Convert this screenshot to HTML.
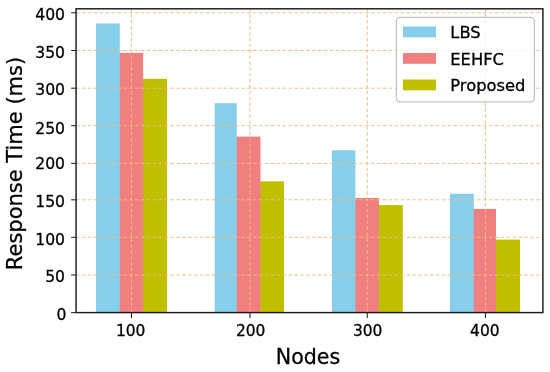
<!DOCTYPE html>
<html><head><meta charset="utf-8"><title>Response Time vs Nodes</title>
<style>
html,body{margin:0;padding:0;background:#fff;}
body{width:550px;height:372px;overflow:hidden;}
svg{display:block;}
text{font-family:"DejaVu Sans","Liberation Sans",sans-serif;fill:#000;stroke:#000;stroke-width:0.3px;}
.tk{font-size:16.4px;}
.lb{font-size:21.6px;}
</style></head><body>
<svg width="550" height="372" viewBox="0 0 550 372">
<rect x="0" y="0" width="550" height="372" fill="#ffffff"/>

<rect x="118.80" y="53.40" width="2" height="259.10" fill="#87ceeb"/>
<rect x="142.20" y="79.30" width="2" height="233.20" fill="#f08080"/>
<rect x="235.80" y="137.10" width="2" height="175.40" fill="#87ceeb"/>
<rect x="259.50" y="181.80" width="2" height="130.70" fill="#f08080"/>
<rect x="354.40" y="198.50" width="2" height="114.00" fill="#87ceeb"/>
<rect x="377.90" y="205.60" width="2" height="106.90" fill="#f08080"/>
<rect x="472.80" y="209.40" width="2" height="103.10" fill="#87ceeb"/>
<rect x="495.00" y="240.10" width="2" height="72.40" fill="#f08080"/>
<rect x="96.00" y="23.40" width="23.80" height="289.10" fill="#87ceeb"/>
<rect x="119.80" y="52.90" width="23.40" height="259.60" fill="#f08080"/>
<rect x="143.20" y="78.80" width="23.90" height="233.70" fill="#bfbf00"/>
<rect x="214.70" y="103.20" width="22.10" height="209.30" fill="#87ceeb"/>
<rect x="236.80" y="136.60" width="23.70" height="175.90" fill="#f08080"/>
<rect x="260.50" y="181.30" width="23.50" height="131.20" fill="#bfbf00"/>
<rect x="332.00" y="150.30" width="23.40" height="162.20" fill="#87ceeb"/>
<rect x="355.40" y="198.00" width="23.50" height="114.50" fill="#f08080"/>
<rect x="378.90" y="205.10" width="23.90" height="107.40" fill="#bfbf00"/>
<rect x="450.00" y="193.70" width="23.80" height="118.80" fill="#87ceeb"/>
<rect x="473.80" y="208.90" width="22.20" height="103.60" fill="#f08080"/>
<rect x="496.00" y="239.60" width="24.00" height="72.90" fill="#bfbf00"/>
<g stroke="rgb(240,188,128)" stroke-opacity="0.95" stroke-width="1.0" stroke-dasharray="3.5 2.4" fill="none">
<line x1="131.45" y1="312.60" x2="131.45" y2="8.80"/>
<line x1="250.00" y1="312.60" x2="250.00" y2="8.80"/>
<line x1="367.30" y1="312.60" x2="367.30" y2="8.80"/>
<line x1="485.45" y1="312.60" x2="485.45" y2="8.80"/>
<line x1="76.05" y1="275.00" x2="542.90" y2="275.00"/>
<line x1="76.05" y1="237.30" x2="542.90" y2="237.30"/>
<line x1="76.05" y1="199.80" x2="542.90" y2="199.80"/>
<line x1="76.05" y1="163.40" x2="542.90" y2="163.40"/>
<line x1="76.05" y1="125.70" x2="542.90" y2="125.70"/>
<line x1="76.05" y1="88.20" x2="542.90" y2="88.20"/>
<line x1="76.05" y1="50.50" x2="542.90" y2="50.50"/>
<line x1="76.05" y1="12.80" x2="542.90" y2="12.80"/>
</g>
<rect x="76.05" y="8.80" width="466.85" height="303.80" fill="none" stroke="#1c1c1c" stroke-width="1.45"/>
<g stroke="#222" stroke-width="1.05">
<line x1="131.45" y1="312.60" x2="131.45" y2="318.10"/>
<line x1="250.00" y1="312.60" x2="250.00" y2="318.10"/>
<line x1="367.30" y1="312.60" x2="367.30" y2="318.10"/>
<line x1="485.45" y1="312.60" x2="485.45" y2="318.10"/>
<line x1="76.05" y1="312.60" x2="71.15" y2="312.60"/>
<line x1="76.05" y1="275.00" x2="71.15" y2="275.00"/>
<line x1="76.05" y1="237.30" x2="71.15" y2="237.30"/>
<line x1="76.05" y1="199.80" x2="71.15" y2="199.80"/>
<line x1="76.05" y1="163.40" x2="71.15" y2="163.40"/>
<line x1="76.05" y1="125.70" x2="71.15" y2="125.70"/>
<line x1="76.05" y1="88.20" x2="71.15" y2="88.20"/>
<line x1="76.05" y1="50.50" x2="71.15" y2="50.50"/>
<line x1="76.05" y1="12.80" x2="71.15" y2="12.80"/>
</g>
<text class="tk" transform="translate(130.65,336.00) scale(0.945,0.950)" text-anchor="middle">100</text>
<text class="tk" transform="translate(250.70,336.00) scale(0.945,0.950)" text-anchor="middle">200</text>
<text class="tk" transform="translate(367.70,336.00) scale(0.945,0.950)" text-anchor="middle">300</text>
<text class="tk" transform="translate(484.85,336.00) scale(0.945,0.950)" text-anchor="middle">400</text>
<text class="tk" transform="translate(66.40,319.80) scale(0.952,1.000)" text-anchor="end">0</text>
<text class="tk" transform="translate(65.00,282.40) scale(0.952,1.000)" text-anchor="end">50</text>
<text class="tk" transform="translate(65.00,244.60) scale(0.952,1.000)" text-anchor="end">100</text>
<text class="tk" transform="translate(65.00,207.10) scale(0.952,1.000)" text-anchor="end">150</text>
<text class="tk" transform="translate(65.00,169.40) scale(0.952,1.000)" text-anchor="end">200</text>
<text class="tk" transform="translate(65.00,133.90) scale(0.952,1.000)" text-anchor="end">250</text>
<text class="tk" transform="translate(65.00,95.40) scale(0.952,1.000)" text-anchor="end">300</text>
<text class="tk" transform="translate(65.00,57.80) scale(0.952,1.000)" text-anchor="end">350</text>
<text class="tk" transform="translate(65.00,20.40) scale(0.952,1.000)" text-anchor="end">400</text>
<text class="lb" transform="translate(308.00,363.60) scale(0.953,1.010)" text-anchor="middle">Nodes</text>
<text class="lb" transform="translate(22.00,163.50) rotate(-90) scale(0.972,0.990)" text-anchor="middle">Response Time (ms)</text>
<rect x="396.4" y="17.4" width="138" height="84.4" rx="3.8" ry="3.8" fill="#fff" fill-opacity="0.8" stroke="#bdbdbd" stroke-opacity="0.9" stroke-width="1.3"/>
<rect x="403" y="26.50" width="33" height="10.8" fill="#87ceeb"/>
<text class="tk" transform="translate(450.30,38.25) scale(0.995,0.980)" text-anchor="start">LBS</text>
<rect x="403" y="53.00" width="33" height="10.8" fill="#f08080"/>
<text class="tk" transform="translate(450.30,64.75) scale(0.995,0.980)" text-anchor="start">EEHFC</text>
<rect x="403" y="79.50" width="33" height="10.8" fill="#bfbf00"/>
<text class="tk" transform="translate(450.30,91.25) scale(0.995,0.980)" text-anchor="start">Proposed</text>
</svg></body></html>
